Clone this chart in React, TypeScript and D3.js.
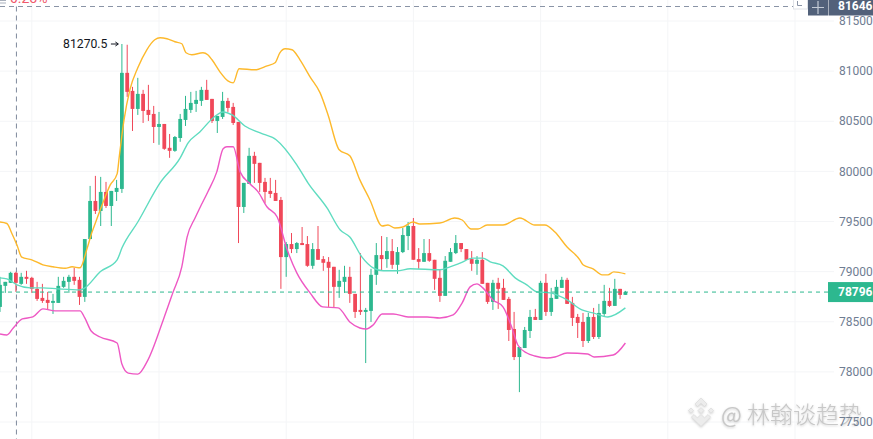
import React from 'react';
import * as d3 from 'd3';

// one entry per candle, oldest first
const opens = [78648,78858,78888,78988,78878,78948,78938,78828,78738,78718,78688,78688,78848,78898,78948,78918,78748,79325,79705,79605,79795,79655,79795,79825,80983,80803,80623,80773,80613,80573,80443,80473,80235,80205,80333,80513,80613,80673,80703,80813,80723,80503,80543,80703,80643,80493,79645,79875,80155,80085,79895,79805,79785,79715,79145,79275,79225,79285,79275,79058,79225,79125,79098,79048,78848,78898,78948,78778,78618,78598,78608,78968,79165,79125,79205,79068,79195,79355,79455,79125,79098,79185,79118,78938,78758,79098,79185,79285,79225,79125,79078,79118,78888,78698,78888,78838,78728,78428,78148,78238,78408,78548,78518,78888,78598,78728,78838,78918,78688,78548,78498,78308,78548,78348,78578,78708,78658,78828,78768];
const highs = [78948,78898,78998,78998,78988,79008,78948,78898,78878,78798,78778,78948,78948,78968,79038,78948,79325,79855,79955,79945,79895,79805,79915,81270.5,81263,80843,80933,80813,80863,80653,80593,80473,80373,80353,80573,80753,80793,80803,80843,80913,80723,80553,80793,80733,80683,80493,79885,80235,80195,80085,79935,79935,79915,79745,79295,79385,79295,79445,79355,79285,79455,79155,79145,79048,79018,79058,79048,78778,79185,78638,79028,79285,79355,79345,79325,79245,79435,79495,79535,79235,79325,79325,79118,79018,79155,79235,79365,79285,79225,79205,79155,79195,78888,78918,78938,78928,78748,78598,78248,78448,78618,78628,78908,78978,78838,78918,78948,78938,78748,78578,78588,78588,78638,78678,78868,78838,78928,78828,78808];
const lows = [78598,78788,78888,78798,78868,78878,78788,78708,78688,78618,78578,78688,78838,78788,78868,78668,78698,79325,79575,79455,79635,79455,79705,79785,80743,80403,80563,80483,80503,80283,80265,80215,80135,80195,80295,80453,80583,80593,80653,80713,80483,80383,80523,80593,80463,79285,79585,79875,79885,79795,79685,79735,79705,78828,78948,79185,79185,79265,79048,79028,79118,79008,78648,78638,78738,78788,78688,78538,78568,78088,78498,78868,79008,79038,79028,78978,79185,79215,79118,79028,79098,79098,78818,78698,78758,79098,79175,79195,79118,79008,78968,78878,78678,78618,78628,78718,78308,78118,77798,78238,78338,78518,78518,78558,78558,78728,78838,78678,78458,78338,78248,78288,78328,78328,78558,78648,78658,78728,78768];
const closes = [78868,78898,78988,78888,78948,78928,78828,78728,78708,78688,78708,78858,78908,78948,78908,78748,79325,79705,79605,79795,79655,79805,79835,80983,80793,80623,80773,80603,80563,80443,80473,80225,80205,80343,80523,80623,80683,80713,80813,80713,80503,80553,80703,80633,80483,79645,79885,80155,80075,79885,79795,79775,79705,79145,79275,79225,79285,79265,79058,79225,79118,79088,79038,78848,78908,78948,78778,78598,78598,78618,78968,79165,79125,79205,79068,79195,79365,79455,79118,79098,79185,79108,78928,78758,79108,79195,79285,79225,79118,79078,79118,78878,78698,78888,78828,78718,78418,78148,78248,78418,78548,78518,78888,78598,78738,78848,78918,78678,78538,78488,78308,78548,78348,78588,78708,78658,78828,78768,78796];

// band readings as [bar, price]
const upperBand: [number, number][] = [[0,79495],[1.3,79480],[2.2,79385],[3.2,79265],[4.1,79145],[6,79118],[8.1,79068],[10,79048],[12.3,79033],[13.6,79048],[15.1,79038],[16.4,79225],[17.3,79385],[18.2,79515],[19.4,79685],[20.8,79865],[22.1,79975],[22.5,80145],[23.4,80513],[24.5,80813],[26,81033],[27.7,81213],[29.2,81313],[30.2,81333],[31.5,81323],[33,81293],[34.3,81273],[35.1,81183],[36.2,81163],[38.3,81183],[39.2,81163],[40,81113],[41.5,80993],[43,80903],[44,80883],[45.1,81023],[48.1,81013],[50.4,81053],[51.9,81083],[52.8,81183],[53.8,81223],[55.1,81213],[56.6,81113],[58.5,80943],[60.4,80783],[61.9,80563],[64,80215],[66,80155],[67.9,79915],[69.8,79715],[72.1,79455],[73.2,79465],[74.5,79435],[76,79445],[77.9,79495],[79.2,79475],[83,79485],[85.8,79535],[87.2,79515],[88.9,79425],[90.2,79425],[91.9,79465],[94.9,79465],[98.1,79535],[100.9,79465],[102.8,79465],[104.7,79395],[107,79245],[109.4,79118],[110,79068],[111.9,79028],[113.6,78968],[114.7,78968],[115.8,78998],[118,78978]];
const middleBand: [number, number][] = [[0,78938],[1.3,78928],[3.2,78868],[5.7,78838],[8.1,78838],[10.9,78828],[15.1,78818],[16,78838],[18.9,78998],[22.1,79118],[23,79235],[26,79495],[30.2,79885],[34,80135],[35.5,80285],[37.7,80393],[40.2,80533],[42.1,80593],[43.8,80563],[46.2,80453],[49.1,80383],[52.1,80315],[56,80065],[58.1,79885],[61.7,79635],[64.2,79415],[66,79345],[68.3,79145],[70.4,79038],[72.3,79008],[74.9,79008],[77.4,79028],[83,79018],[84.9,79048],[86.8,79085],[89.2,79135],[91.1,79135],[92.5,79098],[94.9,79058],[97.2,78938],[99.4,78868],[101.3,78798],[103.8,78788],[107,78718],[109.8,78618],[111.9,78588],[114.7,78548],[118,78638]];
const lowerBand: [number, number][] = [[0,78378],[1.3,78368],[2.5,78438],[4.2,78528],[6.2,78548],[8.1,78628],[10.4,78608],[15.1,78608],[16,78538],[17.2,78408],[18.9,78348],[22.1,78288],[23,78078],[24.2,77988],[26,77978],[27.9,78118],[30.8,78518],[32.6,78788],[34.3,79048],[35.3,79345],[36.8,79535],[37.7,79635],[39.2,79795],[40.9,79995],[42.1,80225],[42.8,80245],[44,80245],[45.3,79995],[47.2,79875],[48.7,79795],[50.4,79645],[52.3,79545],[54.2,79215],[56,78988],[58.5,78788],[60.9,78648],[63.8,78638],[66,78498],[67.9,78438],[69.1,78428],[70.4,78468],[72.1,78578],[74.2,78578],[77,78548],[80.6,78548],[83,78538],[85.5,78568],[87.2,78688],[88.7,78848],[90,78878],[91.1,78838],[93,78718],[94.9,78648],[96.6,78438],[97.7,78268],[99.4,78188],[100.9,78158],[103.2,78138],[104.7,78148],[107,78188],[110.9,78178],[112.1,78148],[115.7,78168],[118,78288]];

const priceTicks = [81500, 81000, 80500, 80000, 79500, 79000, 78500, 78000, 77500];
const timeGridBars = [6, 30, 54, 78, 102, 126, 150];

const lastPrice = 78796;
const crosshairPrice = 81646;
const crosshairBar = 3.1;
const maxBar = 23;
const maxLabel = '81270.5';

const GREEN = '#2DB88F';
const RED = '#F04859';
const AXIS_TEXT = '#6f7d92';
const SLATE = '#52617A';
const FONT = 'Roboto, sans-serif';

const WIDTH = 873;
const HEIGHT = 439;
const PLOT_RIGHT = 834;

export default function App() {
  const x = d3.scaleLinear().domain([0, 118]).range([0, 625.4]);
  const y = d3.scaleLinear().domain([77500, 81500]).range([422, 21]);

  const bandLine = d3.line<[number, number]>()
    .x(d => x(d[0]))
    .y(d => y(d[1]))
    .curve(d3.curveMonotoneX);

  const bodyWidth = 3.8;
  const maxX = x(maxBar);
  const maxY = y(highs[maxBar]);

  return (
    <svg
      width={WIDTH}
      height={HEIGHT}
      style={{ position: 'absolute', left: 0, top: 0, display: 'block', background: '#fff' }}
    >
      <defs>
        <filter id="wm-shadow" x="-10%" y="-10%" width="120%" height="130%">
          <feDropShadow dx="0" dy="1" stdDeviation="0.8" floodColor="#999" floodOpacity="0.45" />
        </filter>
      </defs>

      {/* grid */}
      {priceTicks.map(t => (
        <line key={t} x1={0} x2={PLOT_RIGHT} y1={y(t)} y2={y(t)} stroke="#f4f5f7" />
      ))}
      {timeGridBars.map(b => (
        <line key={b} x1={x(b)} x2={x(b)} y1={0} y2={HEIGHT} stroke="#f4f5f7" />
      ))}

      {/* crosshair */}
      <line x1={0} x2={794} y1={6.5} y2={6.5} stroke="#8a94a6" strokeDasharray="5 4" />
      <line x1={x(crosshairBar)} x2={x(crosshairBar)} y1={6.5} y2={HEIGHT} stroke="#7f8a9c" strokeDasharray="5 4" />

      {/* candles */}
      {opens.map((o, i) => {
        const up = closes[i] >= o;
        const color = up ? GREEN : RED;
        const top = y(Math.max(o, closes[i]));
        const bottom = y(Math.min(o, closes[i]));
        return (
          <g key={i}>
            <line x1={x(i)} x2={x(i)} y1={y(highs[i])} y2={y(lows[i])} stroke={color} strokeWidth={1} />
            <rect x={x(i) - bodyWidth / 2} y={top} width={bodyWidth} height={Math.max(bottom - top, 1)} fill={color} />
          </g>
        );
      })}

      {/* bands */}
      <path d={bandLine(upperBand) || ''} fill="none" stroke="#FDB92C" strokeWidth={1.4} />
      <path d={bandLine(middleBand) || ''} fill="none" stroke="#5FDCC0" strokeWidth={1.4} />
      <path d={bandLine(lowerBand) || ''} fill="none" stroke="#EE58C4" strokeWidth={1.4} />

      {/* last price line */}
      <line x1={0} x2={828} y1={y(lastPrice)} y2={y(lastPrice)} stroke={GREEN} strokeDasharray="4 4" />

      {/* max marker */}
      <text x={maxX - 14.5} y={maxY} dy="0.35em" textAnchor="end" fontFamily={FONT} fontSize={12.2} fill="#131722">
        {maxLabel}
      </text>
      <path
        d={`M${maxX - 11},${maxY}H${maxX - 4}M${maxX - 6.5},${maxY - 2}L${maxX - 3.5},${maxY}L${maxX - 6.5},${maxY + 2}`}
        fill="none"
        stroke="#131722"
        strokeWidth={1}
      />

      {/* clipped change label, top left */}
      <text x={10} y={3} fontFamily={FONT} fontSize={14} fill="#F0596B">0.23%</text>
      <path d="M0,0.5H6M0,3H6" stroke="#aab1bd" strokeWidth={1} />

      {/* watermark */}
      <g filter="url(#wm-shadow)" fill="#ececec" stroke="#d8d8d8" strokeWidth={0.6}>
        <path d="M701,398l6,6l-2.6,2.6l-3.4,-3.4l-3.4,3.4l-2.6,-2.6z" />
        <path d="M691,408l2.6,2.6l-2.6,2.6l-2.6,-2.6z" />
        <path d="M711,408l2.6,2.6l-2.6,2.6l-2.6,-2.6z" />
        <path d="M701,407.5l3,3l-3,3l-3,-3z" />
        <path d="M694,414.5l3.4,3.4l3.6,-3.4l3.6,3.4l3.4,-3.4l2.6,2.6l-9.6,9.4l-9.6,-9.4z" />
      </g>
      <g filter="url(#wm-shadow)" fill="#c8c8c8" fontFamily="'Noto Sans CJK SC', 'Noto Sans', sans-serif">
        <text x={721} y={423} fontSize={22}>@</text>
        <text x={747} y={423} fontSize={23} fontWeight={300}>林翰谈趋势</text>
      </g>

      {/* price axis */}
      {priceTicks.map(t => (
        <text key={t} x={839} y={y(t)} dy="0.35em" fontFamily={FONT} fontSize={12} fill={AXIS_TEXT}>{t}</text>
      ))}

      {/* last price tag */}
      <rect x={828} y={y(lastPrice) - 10} width={45} height={20} fill={GREEN} />
      <text x={838} y={y(lastPrice)} dy="0.35em" fontFamily={FONT} fontSize={12} fontWeight={700} fill="#fff">{lastPrice}</text>

      {/* crosshair tag and buttons, top right */}
      <rect x={793.5} y={-1} width={14} height={10} fill="#fff" stroke="#dfe2e7" />
      <path d="M797.5,1V5.5H802" fill="none" stroke="#8a94a6" />
      <rect x={808} y={0} width={20.5} height={15.5} fill={SLATE} />
      <path d="M818,1V14M812,7.5H824" stroke="#c3cad5" strokeWidth={1.2} />
      <rect x={829} y={0} width={44} height={15.5} fill={SLATE} />
      <text x={838} y={10} fontFamily={FONT} fontSize={12} fontWeight={700} fill="#fff">{crosshairPrice}</text>
    </svg>
  );
}
